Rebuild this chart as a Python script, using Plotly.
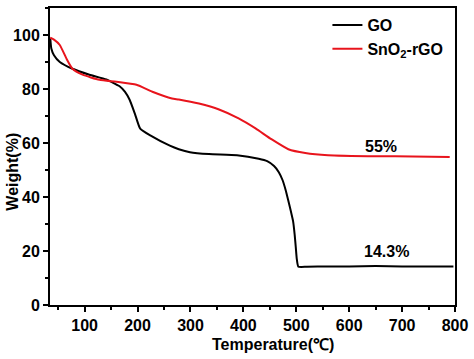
import plotly.graph_objects as go

# GO curve (Temperature °C, Weight %)
go_temp = [35, 37, 42, 53, 77, 109, 141, 166, 176, 185, 195, 205, 224, 261, 278, 299, 335, 388, 429, 445, 458, 467, 474, 480, 485, 490, 494, 497, 499, 501, 504, 520, 560, 600, 650, 700, 750, 797]
go_weight = [99, 95, 92.5, 90, 87.5, 85.3, 83.5, 81, 79, 76, 70.8, 65.3, 62.8, 59, 57.7, 56.6, 55.9, 55.5, 54.2, 53.3, 51.5, 49.2, 46.3, 42.5, 38.6, 34.5, 31, 26, 21.5, 17, 14.2, 14.2, 14.3, 14.3, 14.4, 14.3, 14.3, 14.3]

# SnO2-rGO curve
sn_temp = [35, 42, 53, 66, 77, 96, 128, 160, 198, 228, 265, 278, 316, 354, 391, 423, 453, 485, 517, 560, 654, 720, 790]
sn_weight = [99, 98.3, 96.3, 91.1, 87.5, 85.3, 83.4, 82.7, 81.6, 79, 76.5, 76.1, 74.6, 72.4, 69.1, 65.4, 61.4, 57.7, 56.3, 55.5, 55.1, 55.0, 54.8]

x_ticks = [100, 200, 300, 400, 500, 600, 700, 800]
y_ticks = [0, 20, 40, 60, 80, 100]

font_family = "Arial, Liberation Sans, sans-serif"

fig = go.Figure()
fig.add_trace(go.Scatter(x=go_temp, y=go_weight, mode="lines", name="GO",
                         line=dict(color="black", width=2, shape="spline", smoothing=0.5)))
fig.add_trace(go.Scatter(x=sn_temp, y=sn_weight, mode="lines", name="SnO<sub>2</sub>-rGO",
                         line=dict(color="#e8141c", width=2, shape="spline", smoothing=0.5)))

axis_common = dict(showline=True, linecolor="black", linewidth=2, mirror=True,
                   ticks="outside", ticklen=5, tickwidth=2, tickcolor="black",
                   showgrid=False, zeroline=False,
                   tickfont=dict(family=font_family, size=16, color="black", weight="bold"))

fig.update_xaxes(range=[34.5, 800], tickvals=x_ticks,
                 minor=dict(ticks="outside", ticklen=3, tickwidth=2, tickcolor="black", dtick=50, tick0=0, showgrid=False),
                 **axis_common)
fig.update_yaxes(range=[0, 110], tickvals=y_ticks,
                 minor=dict(ticks="outside", ticklen=3, tickwidth=2, tickcolor="black", dtick=10, tick0=0, showgrid=False),
                 **axis_common)

fig.add_annotation(x=661, y=58.8, text="<b>55%</b>", showarrow=False,
                   font=dict(family=font_family, size=16, color="black"))
fig.add_annotation(x=671, y=19.7, text="<b>14.3%</b>", showarrow=False,
                   font=dict(family=font_family, size=16, color="black"))

# axis titles
fig.add_annotation(xref="paper", yref="paper", x=0.55, y=-0.133, yanchor="middle",
                   text="<b>Temperature(℃)</b>", showarrow=False,
                   font=dict(family=font_family, size=16, color="black"))
fig.add_annotation(xref="paper", yref="paper", x=-0.093, y=0.45, textangle=-90,
                   xanchor="center", yanchor="middle",
                   text="<b>Weight(%)</b>", showarrow=False,
                   font=dict(family=font_family, size=16, color="black"))

fig.update_layout(
    width=474, height=359,
    margin=dict(l=50, r=17, t=6, b=54),
    plot_bgcolor="white", paper_bgcolor="white",
    showlegend=True,
    legend=dict(x=0.685, y=1.0, xanchor="left", yanchor="top",
                bgcolor="rgba(0,0,0,0)", borderwidth=0,
                font=dict(family=font_family, size=16, color="black", weight="bold"),
                itemwidth=30, tracegroupgap=0),
)

fig.write_html("out.html")
